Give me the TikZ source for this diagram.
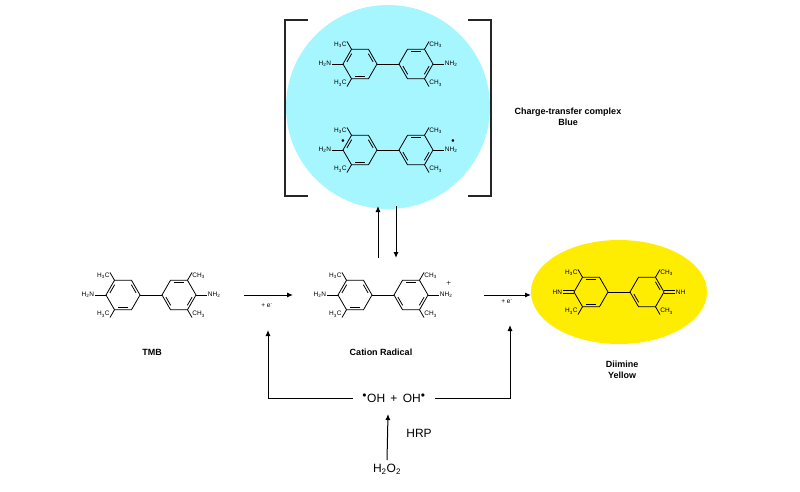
\documentclass[tikz,border=0pt]{standalone}
\usepackage{fontspec}
\setmainfont{Liberation Sans}
\usetikzlibrary{calc,arrows.meta}
\def\R{17}
\newcommand\hexring[2]{%
 \draw (#1)+(0:\R)--+(60:\R)--+(120:\R)--+(180:\R)--+(240:\R)--+(300:\R)--cycle;
 \foreach \a in {#2} \draw ($(#1)+(\a+9:\R*0.78)$)--($(#1)+(\a+51:\R*0.78)$);}
% #1 x, #2 y, #3 left N, #4 right N, #5 left ring edges, #6 right edges, #7 quinoid (1) or not (0)
\newcommand\biph[7]{%
 \coordinate (L) at (#1-28,#2); \coordinate (Rr) at (#1+28,#2);
 \hexring{L}{#5}\hexring{Rr}{#6}
 \draw ($(L)+(0:\R)$)--($(Rr)+(180:\R)$);
 \draw ($(L)+(120:\R)$)--($(L)+(120:\R+9)$) node[chem,anchor=south east,inner sep=0pt]{H\textsubscript{3}C};
 \draw ($(L)+(240:\R)$)--($(L)+(240:\R+9)$) node[chem,anchor=north east,inner sep=0pt]{H\textsubscript{3}C};
 \draw ($(Rr)+(60:\R)$)--($(Rr)+(60:\R+9)$) node[chem,anchor=south west,inner sep=0pt]{CH\textsubscript{3}};
 \draw ($(Rr)+(300:\R)$)--($(Rr)+(300:\R+9)$) node[chem,anchor=north west,inner sep=0pt]{CH\textsubscript{3}};
 \ifnum#7=1
  \draw ($(L)+(180:\R)+(0,-1.5)$)--++(-11,0); \draw ($(L)+(180:\R)+(0,1.5)$)--++(-11,0);
  \draw ($(Rr)+(0:\R)+(0,-1.5)$)--++(11,0); \draw ($(Rr)+(0:\R)+(0,1.5)$)--++(11,0);
 \else
  \draw ($(L)+(180:\R)$)--++(-11,0); \draw ($(Rr)+(0:\R)$)--++(11,0);
 \fi
 \node[chem,anchor=east,inner sep=0.5pt] at ($(L)+(180:\R+11)$) {#3};
 \node[chem,anchor=west,inner sep=0.5pt] at ($(Rr)+(0:\R+11)$) {#4};}
\begin{document}
\begin{tikzpicture}[x=1pt,y=-1pt,line width=0.8pt,
 chem/.style={font=\fontsize{6.5}{7}\selectfont},
 lbl/.style={font=\bfseries\fontsize{9}{11}\selectfont,align=center},
 arr/.style={-{Latex[length=6pt,width=5pt]},line width=1pt}]
\useasboundingbox (0,0) rectangle (800,492);
\fill[white] (0,0) rectangle (800,492);
% blue complex
\fill[cyan!35!blue!35!white,fill=blue!10!cyan!35] (388,107) circle (102);
\draw[line width=1.2pt,gray!30!black] (308,20)--(285,20)--(285,196)--(308,196);
\draw[line width=1.2pt,gray!30!black] (468,20)--(491,20)--(491,196)--(468,196);
\biph{388}{64}{H\textsubscript{2}N}{NH\textsubscript{2}}{60,180,300}{0,120,240}{0}
\biph{388}{150}{H\textsubscript{2}N}{NH\textsubscript{2}}{60,180,300}{0,120,240}{0}
\node[chem] (d1) at (343,141) {$\bullet$};
\node[chem] (d2) at (453,141) {$\bullet$};
\node[lbl] (ct) at (568,117) {Charge-transfer complex\\Blue};
% yellow
\fill[yellow!95!orange] (619,292) ellipse (88 and 52);
\biph{619}{292}{HN}{NH}{60,240}{120,300}{1}
\node[lbl] (dy) at (622,370) {Diimine\\Yellow};
% TMB
\biph{151}{295}{H\textsubscript{2}N}{NH\textsubscript{2}}{60,180,300}{0,120,240}{0}
\node[lbl] (tmb) at (152,352) {TMB};
% cation radical
\biph{383}{295}{H\textsubscript{2}N}{NH\textsubscript{2}}{60,180,300}{0,120,240}{0}
\node[chem] (pp) at (449,284) {$^{+}\!\!\!\!^{+}$};
\node[lbl] (cr) at (381,352) {Cation Radical};
% arrows
\coordinate (a1) at (244,295); \coordinate (a2) at (293,295);
\draw[arr] (a1)--(a2);
\node[chem] (e1) at (267,306) {+ e\textsuperscript{-}};
\coordinate (b1) at (484,295); \coordinate (b2) at (531,295);
\draw[arr] (b1)--(b2);
\node[chem] (e2) at (507,302) {+ e\textsuperscript{-}};
\coordinate (u1) at (378,258); \coordinate (u2) at (378,206);
\draw[arr] (u1)--(u2);
\coordinate (v1) at (396,206); \coordinate (v2) at (396,258);
\draw[arr] (v1)--(v2);
\node[font=\fontsize{12}{14}\selectfont] (oh) at (394,398) {$^\bullet$OH \,+\, OH$^\bullet$};
\coordinate (l1) at (268,330); \coordinate (r1) at (510,325);
\draw[arr] (oh.west)++(-6,0) -| (l1);
\draw[arr] (oh.east)++(6,0) -| (r1);
\node[font=\fontsize{12}{14}\selectfont] (h2o2) at (387,469) {H\textsubscript{2}O\textsubscript{2}};
\coordinate (hp) at (388,414);
\draw[arr] (h2o2.north)--(hp);
\node[font=\fontsize{12}{14}\selectfont] (hrp) at (419,433) {HRP};
\end{tikzpicture}
\end{document}
